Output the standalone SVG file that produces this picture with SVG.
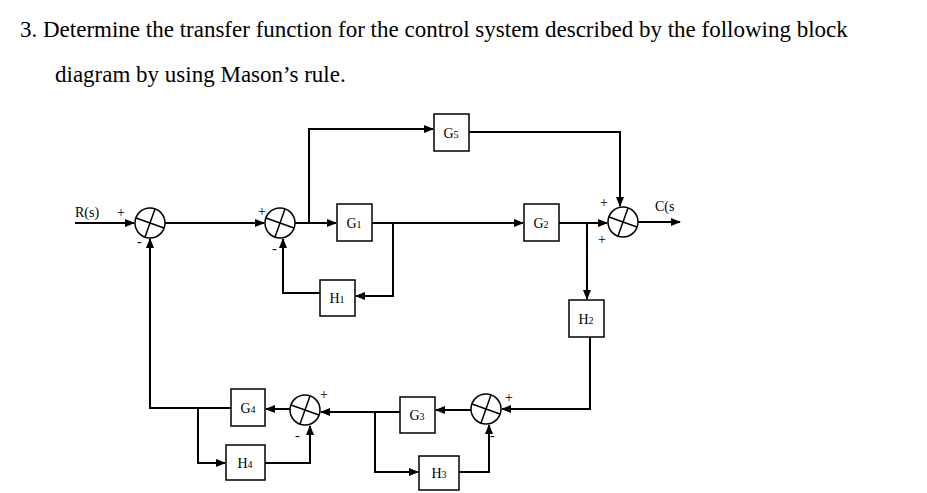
<svg xmlns="http://www.w3.org/2000/svg" width="927" height="493" viewBox="0 0 927 493">
<style>
.t{font-family:"Liberation Serif",serif;fill:#000}
.b{fill:#fff;stroke:#000;stroke-width:1.5}
.w{fill:none;stroke:#000;stroke-width:2}
.s{fill:#fff;stroke:#000;stroke-width:1.5}
.x{stroke:#000;stroke-width:1.5}
</style>
<defs>
<marker id="a" markerWidth="10" markerHeight="8" refX="9" refY="4" orient="auto" markerUnits="userSpaceOnUse"><path d="M0,0L10,4L0,8z" fill="#000"/></marker>
</defs>
<rect width="927" height="493" fill="#fff"/>
<text class="t" x="20" y="37" font-size="23">3. Determine the transfer function for the control system described by the following block</text>
<text class="t" x="55" y="82" font-size="23">diagram by using Mason’s rule.</text>
<g id="connectors">
<path class="w" d="M75,223H134" marker-end="url(#a)"/>
<path class="w" d="M165,223H264" marker-end="url(#a)"/>
<path class="w" d="M295,223H336" marker-end="url(#a)"/>
<path class="w" d="M309,223V129H433" marker-end="url(#a)"/>
<path class="w" d="M469,132H620V206" marker-end="url(#a)"/>
<path class="w" d="M372,223H523" marker-end="url(#a)"/>
<path class="w" d="M393,223V296H356" marker-end="url(#a)"/>
<path class="w" d="M320,293H283V239" marker-end="url(#a)"/>
<path class="w" d="M559,223H607" marker-end="url(#a)"/>
<path class="w" d="M587,223V299" marker-end="url(#a)"/>
<path class="w" d="M638,222H680" marker-end="url(#a)"/>
<path class="w" d="M590,337V409H502" marker-end="url(#a)"/>
<path class="w" d="M471,410H436" marker-end="url(#a)"/>
<path class="w" d="M400,412H321" marker-end="url(#a)"/>
<path class="w" d="M375,412V472H418" marker-end="url(#a)"/>
<path class="w" d="M459,472H489V425" marker-end="url(#a)"/>
<path class="w" d="M290,409H266" marker-end="url(#a)"/>
<path class="w" d="M231,408H150V239" marker-end="url(#a)"/>
<path class="w" d="M198,408V463H225" marker-end="url(#a)"/>
<path class="w" d="M265,463H310V426" marker-end="url(#a)"/>
</g>
<g id="sum1"><circle class="s" cx="150" cy="223" r="15"/><path class="x" d="M136,218L164,228M155,209L145,237"/></g>
<g id="sum2"><circle class="s" cx="280" cy="223" r="15"/><path class="x" d="M266,218L294,228M285,209L275,237"/></g>
<g id="sum3"><circle class="s" cx="623" cy="222" r="15"/><path class="x" d="M609,217L637,227M628,208L618,236"/></g>
<g id="sum4"><circle class="s" cx="305" cy="410" r="15"/><path class="x" d="M291,405L319,415M310,396L300,424"/></g>
<g id="sum5"><circle class="s" cx="486" cy="409" r="15"/><path class="x" d="M472,404L500,414M491,395L481,423"/></g>
<g id="G1"><rect class="b" x="337" y="204" width="35" height="37"/><text class="t" x="354" y="228" font-size="14" text-anchor="middle">G<tspan font-size="10">1</tspan></text></g>
<g id="G5"><rect class="b" x="434" y="114" width="35" height="37"/><text class="t" x="451" y="138" font-size="14" text-anchor="middle">G<tspan font-size="10">5</tspan></text></g>
<g id="G2"><rect class="b" x="524" y="204" width="35" height="37"/><text class="t" x="541" y="228" font-size="14" text-anchor="middle">G<tspan font-size="10">2</tspan></text></g>
<g id="H1"><rect class="b" x="320" y="280" width="35" height="36"/><text class="t" x="337" y="303" font-size="14" text-anchor="middle">H<tspan font-size="10">1</tspan></text></g>
<g id="H2"><rect class="b" x="569" y="300" width="35" height="37"/><text class="t" x="586" y="324" font-size="14" text-anchor="middle">H<tspan font-size="10">2</tspan></text></g>
<g id="G4"><rect class="b" x="231" y="389" width="34" height="37"/><text class="t" x="248" y="413" font-size="14" text-anchor="middle">G<tspan font-size="10">4</tspan></text></g>
<g id="H4"><rect class="b" x="226" y="445" width="39" height="35"/><text class="t" x="245" y="468" font-size="14" text-anchor="middle">H<tspan font-size="10">4</tspan></text></g>
<g id="G3"><rect class="b" x="400" y="397" width="35" height="36"/><text class="t" x="417" y="420" font-size="14" text-anchor="middle">G<tspan font-size="10">3</tspan></text></g>
<g id="H3"><rect class="b" x="419" y="456" width="40" height="34"/><text class="t" x="439" y="478" font-size="14" text-anchor="middle">H<tspan font-size="10">3</tspan></text></g>
<g id="labels" class="t" font-size="14">
<text x="75" y="217">R(s)</text><text x="117" y="217">+</text><text x="137" y="246">-</text>
<text x="258" y="216">+</text><text x="272" y="253">-</text>
<text x="600" y="207">+</text><text x="598" y="244">+</text>
<text x="655" y="211">C(s</text>
<text x="320" y="399">+</text><text x="295" y="440">-</text>
<text x="505" y="402">+</text><text x="490" y="440">-</text>
</g>
</svg>
